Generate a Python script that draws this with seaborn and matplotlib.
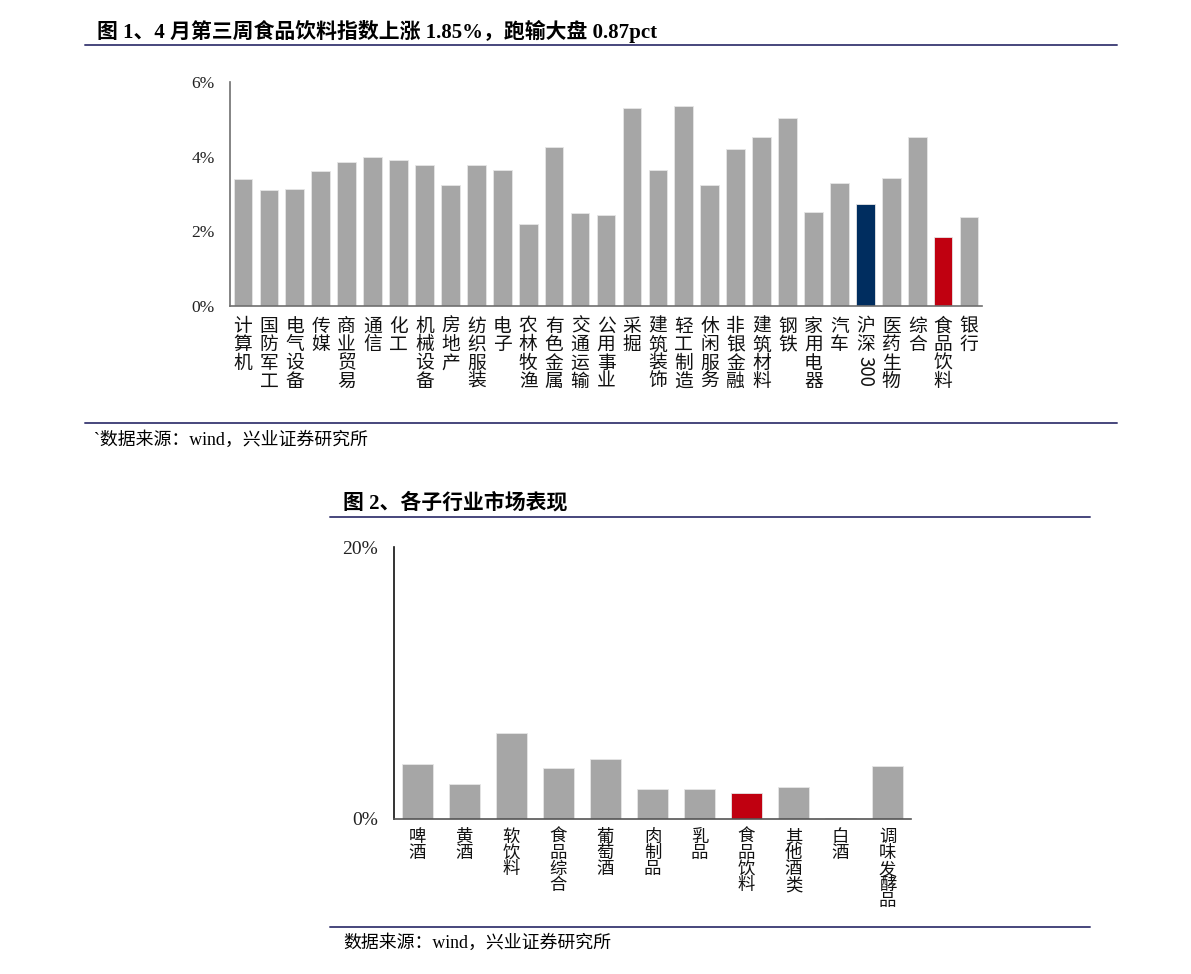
import matplotlib
matplotlib.use("Agg")
import matplotlib.pyplot as plt
import seaborn as sns
from matplotlib.lines import Line2D
from matplotlib.ticker import FuncFormatter, FixedLocator

sns.set_theme(style="white")
plt.rcParams['font.family'] = ['Noto Sans CJK SC', 'DejaVu Sans']

# ---- data ----
industries = ["计算机", "国防军工", "电气设备", "传媒", "商业贸易", "通信", "化工", "机械设备",
              "房地产", "纺织服装", "电子", "农林牧渔", "有色金属", "交通运输", "公用事业", "采掘",
              "建筑装饰", "轻工制造", "休闲服务", "非银金融", "建筑材料", "钢铁", "家用电器", "汽车",
              "沪深300", "医药生物", "综合", "食品饮料", "银行"]
industry_returns = [3.39, 3.10, 3.13, 3.62, 3.85, 4.00, 3.90, 3.77, 3.23, 3.77, 3.65, 2.19,
                    4.26, 2.48, 2.45, 5.31, 3.64, 5.35, 3.23, 4.21, 4.52, 5.03, 2.51, 3.30,
                    2.72, 3.44, 4.52, 1.85, 2.38]
sub_industries = ["啤酒", "黄酒", "软饮料", "食品综合", "葡萄酒", "肉制品", "乳品", "食品饮料",
                  "其他酒类", "白酒", "调味发酵品"]
sub_returns = [4.04, 2.57, 6.30, 3.75, 4.36, 2.16, 2.20, 1.85, 2.30, 0.07, 3.90]
top_yticks = [0, 2, 4, 6]
bottom_yticks = [0, 20]

GRAY = "#a6a6a6"
NAVY = "#002d5f"
RED = "#c00010"
LINE = "#46467c"


def color_for(name):
    if name == "沪深300":
        return NAVY
    if name == "食品饮料":
        return RED
    return GRAY


W, H = 1191, 974
fig = plt.figure(figsize=(W / 100, H / 100), dpi=100)


def fx(px):
    return px / W


def fy(py):
    return 1 - py / H


serif = ['Liberation Serif', 'Noto Sans CJK SC']

# ---- headers / footers ----
fig.text(fx(97), fy(31), "图 1、4 月第三周食品饮料指数上涨 1.85%，跑输大盘 0.87pct",
         family=serif, fontsize=15, fontweight='bold', va='center', ha='left', color='black')
fig.add_artist(Line2D([fx(85), fx(1117)], [fy(45), fy(45)], color=LINE, lw=1.4))
fig.add_artist(Line2D([fx(85), fx(1117)], [fy(423), fy(423)], color=LINE, lw=1.4))
fig.text(fx(94), fy(440), "`数据来源：wind，兴业证券研究所", family=serif, fontsize=12.9,
         va='center', ha='left', color='black')

fig.text(fx(343), fy(503), "图 2、各子行业市场表现", family=serif, fontsize=15,
         fontweight='bold', va='center', ha='left', color='black')
fig.add_artist(Line2D([fx(330), fx(1090)], [fy(517), fy(517)], color=LINE, lw=1.4))
fig.add_artist(Line2D([fx(330), fx(1090)], [fy(927), fy(927)], color=LINE, lw=1.4))
fig.text(fx(343), fy(943), "数据来源：wind，兴业证券研究所", family=serif, fontsize=12.9,
         va='center', ha='left', color='black')


def vertical(label):
    if label == "沪深300":
        return "沪\n深"
    return "\n".join(label)


def style_axes(ax, yticks, spine_color, ysize, ypad):
    sns.despine(ax=ax, top=True, right=True)
    ax.spines['left'].set_color(spine_color)
    ax.spines['bottom'].set_color(spine_color)
    ax.spines['left'].set_linewidth(1.2)
    ax.spines['bottom'].set_linewidth(1.2)
    ax.yaxis.set_major_locator(FixedLocator(yticks))
    ax.yaxis.set_major_formatter(FuncFormatter(lambda v, p: f"{v:.0f}%"))
    ax.tick_params(axis='both', length=0)
    ax.tick_params(axis='y', pad=ypad)
    for t in ax.get_yticklabels():
        t.set_family(serif)
        t.set_fontsize(ysize)
        t.set_color('#222222')
    ax.set_xlabel("")
    ax.set_ylabel("")
    ax.grid(False)


# ---- chart 1 ----
ax1 = fig.add_axes([fx(230), fy(306), fx(982) - fx(230), fy(82) - fy(306)])
pal1 = {c: color_for(c) for c in industries}
sns.barplot(x=industries, y=industry_returns, hue=industries, palette=pal1, legend=False,
            saturation=1, width=0.72, ax=ax1, edgecolor='#e6e6e6', linewidth=0.6)
ax1.set_xlim(-0.5, len(industries) - 0.5)
ax1.set_ylim(0, 6)
style_axes(ax1, top_yticks, '#6f6f6f', 12.5, 11)
ax1.set_xticks(range(len(industries)))
ax1.set_xticklabels([vertical(c) for c in industries], fontsize=13.5, linespacing=0.84,
                    va='top', color='#111111')
ax1.tick_params(axis='x', pad=7)
# the rotated digits under 沪深
i300 = industries.index("沪深300")
ax1.annotate("300", xy=(i300, 0), xycoords='data', xytext=(0, -36), textcoords='offset points',
             rotation=-90, ha='center', va='top', fontsize=13.5, color='#111111',
             annotation_clip=False)

# ---- chart 2 ----
ax2 = fig.add_axes([fx(394), fy(818.5), fx(911) - fx(394), fy(547) - fy(818.5)])
pal2 = {c: (RED if c == "食品饮料" else GRAY) for c in sub_industries}
sns.barplot(x=sub_industries, y=sub_returns, hue=sub_industries, palette=pal2, legend=False,
            saturation=1, width=0.66, ax=ax2, edgecolor='#e6e6e6', linewidth=0.6)
ax2.set_xlim(-0.5, len(sub_industries) - 0.5)
ax2.set_ylim(0, 20)
style_axes(ax2, bottom_yticks, '#555555', 14, 11.5)
ax2.spines['left'].set_color('#111111')
ax2.set_xticks(range(len(sub_industries)))
ax2.set_xticklabels([vertical(c) for c in sub_industries], fontsize=12.5,
                    linespacing=0.86, va='top', color='#111111')
ax2.tick_params(axis='x', pad=7)

fig.savefig("out.png", dpi=100, facecolor='white')
